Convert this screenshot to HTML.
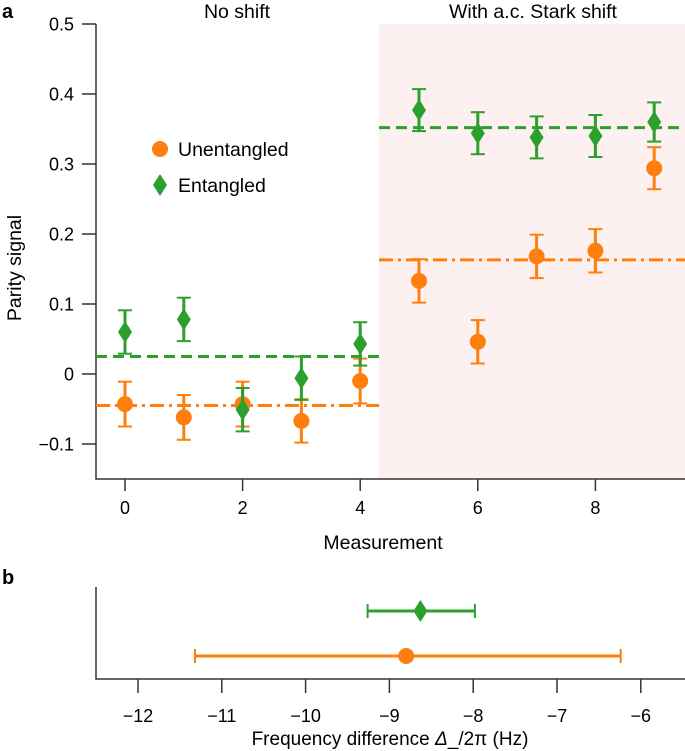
<!DOCTYPE html>
<html><head><meta charset="utf-8"><style>
html,body{margin:0;padding:0;background:#fff}
svg{display:block;font-family:"Liberation Sans",Arial,sans-serif}
</style></head><body>
<svg id="chart" width="685" height="751" viewBox="0 0 685 751" xmlns="http://www.w3.org/2000/svg">
<g id="a"></g><g id="b"></g>
</svg>
<script>
const measurements=[0,1,2,3,4,5,6,7,8,9];
const unentangled=[-0.043,-0.062,-0.043,-0.067,-0.010,0.133,0.046,0.168,0.176,0.294];
const entangled=[0.060,0.078,-0.051,-0.006,0.043,0.377,0.344,0.338,0.340,0.360];
const errU=[0.032,0.032,0.032,0.031,0.032,0.031,0.031,0.031,0.031,0.030];
const errE=[0.031,0.031,0.031,0.031,0.031,0.030,0.030,0.030,0.030,0.028];
const fitNoShift=[-0.045,0.025];
const fitShift=[0.163,0.352];
const yTicks=[-0.1,0,0.1,0.2,0.3,0.4,0.5];
const yTickLabels=["\u22120.1","0","0.1","0.2","0.3","0.4","0.5"];
const xTicks=[0,2,4,6,8];
const bTicks=[-12,-11,-10,-9,-8,-7,-6];
const bCenters=[-8.80,-8.63];
const bLow=[-11.32,-9.26];
const bHigh=[-6.24,-7.98];

const NS="http://www.w3.org/2000/svg";
function mk(parent,tag,attrs,txt){const e=document.createElementNS(NS,tag);for(const k in attrs)e.setAttribute(k,attrs[k]);if(txt!==undefined)e.textContent=txt;parent.appendChild(e);return e;}
const OR="#ff7f0e",GR="#2ca02c";
const xA=v=>125+v*58.8;
const yA=v=>374-v*700;
const gA=document.getElementById('a');
let r=mk(gA,'rect',{x:379,y:24,width:306,height:455,fill:'#fdf0f0'});

let t;
t=mk(gA,'text',{x:2,y:18,'font-size':20,'font-weight':'bold'},'a');
t=mk(gA,'text',{x:237,y:18,'font-size':19.5,'text-anchor':'middle'},'No shift');
t=mk(gA,'text',{x:533,y:18,'font-size':19.5,'text-anchor':'middle'},'With a.c. Stark shift');
let ax=mk(gA,'path',{d:'M96,24 V479 H685',fill:'none',stroke:'#333','stroke-width':1.5});

yTicks.forEach((v,i)=>{
 const l=mk(gA,'line',{x1:82,x2:96,y1:yA(v),y2:yA(v),stroke:'#333','stroke-width':1.5});
 
 const tt=mk(gA,'text',{x:74,y:yA(v)+6.5,'font-size':18,'text-anchor':'end'},yTickLabels[i]);
 
});
xTicks.forEach(v=>{
 const l=mk(gA,'line',{x1:xA(v),x2:xA(v),y1:479,y2:491,stroke:'#333','stroke-width':1.5});
 
 const tt=mk(gA,'text',{x:xA(v),y:514,'font-size':18,'text-anchor':'middle'},String(v));
 
});
t=mk(gA,'text',{x:383,y:549,'font-size':19.5,'text-anchor':'middle'},'Measurement');
t=mk(gA,'text',{x:0,y:0,'font-size':19.5,'text-anchor':'middle',transform:'translate(21,268) rotate(-90)'},'Parity signal');
const split=379;
[[fitNoShift[0],96,split,OR,'14 5 3 5','fit-unentangled-no-shift'],[fitNoShift[1],96,split,GR,'11 6','fit-entangled-no-shift'],
 [fitShift[0],split,685,OR,'14 5 3 5','fit-unentangled-shift'],[fitShift[1],split,685,GR,'11 6','fit-entangled-shift']].forEach(f=>{
 const l=mk(gA,'line',{x1:f[1],x2:f[2],y1:yA(f[0]),y2:yA(f[0]),stroke:f[3],'stroke-width':3,'stroke-dasharray':f[4]});
 
});
function errbar(g,x,y,lo,hi,c,cw,sw){
 mk(g,'line',{x1:x,x2:x,y1:lo,y2:hi,stroke:c,'stroke-width':sw});
 mk(g,'line',{x1:x-cw,x2:x+cw,y1:lo,y2:lo,stroke:c,'stroke-width':2});
 mk(g,'line',{x1:x-cw,x2:x+cw,y1:hi,y2:hi,stroke:c,'stroke-width':2});
}
measurements.forEach((m,i)=>{
 const x=xA(m);
 const g=mk(gA,'g',{});
 
 errbar(g,x,yA(unentangled[i]),yA(unentangled[i]-errU[i]),yA(unentangled[i]+errU[i]),OR,7,3);
 mk(g,'circle',{cx:x,cy:yA(unentangled[i]),r:8,fill:OR});
});
measurements.forEach((m,i)=>{
 const x=xA(m),y=yA(entangled[i]);
 const g=mk(gA,'g',{});
 
 errbar(g,x,y,yA(entangled[i]-errE[i]),yA(entangled[i]+errE[i]),GR,7,3);
 mk(g,'path',{d:`M${x},${y-11} L${x+7},${y} L${x},${y+11} L${x-7},${y} Z`,fill:GR});
});
let lg=mk(gA,'g',{});
let le=mk(lg,'g',{});
mk(le,'circle',{cx:160,cy:149,r:8,fill:OR});mk(le,'text',{x:178,y:156,'font-size':19.5},'Unentangled');
le=mk(lg,'g',{});
mk(le,'path',{d:'M160,174 L167,185 L160,196 L153,185 Z',fill:GR});mk(le,'text',{x:178,y:192,'font-size':19.5},'Entangled');

const gB=document.getElementById('b');
const xB=v=>138+(v+12)*83.8;
const rowsY=[656,611];
t=mk(gB,'text',{x:2,y:584,'font-size':20,'font-weight':'bold'},'b');
ax=mk(gB,'path',{d:'M96,587 V679 H685',fill:'none',stroke:'#333','stroke-width':1.5});

bTicks.forEach(v=>{
 const l=mk(gB,'line',{x1:xB(v),x2:xB(v),y1:679,y2:693,stroke:'#333','stroke-width':1.5});
 
 const tt=mk(gB,'text',{x:xB(v),y:722,'font-size':18,'text-anchor':'middle'},'\u2212'+Math.abs(v));
 
});
t=mk(gB,'text',{x:390,y:745,'font-size':19,'text-anchor':'middle'});

t.innerHTML='Frequency difference <tspan font-style="italic">\u0394</tspan>_/2\u03c0 (Hz)';
[0,1].forEach(i=>{
 const g=mk(gB,'g',{});
 
 const c=i?GR:OR,y=rowsY[i],x=xB(bCenters[i]);
 mk(g,'line',{x1:xB(bLow[i]),x2:xB(bHigh[i]),y1:y,y2:y,stroke:c,'stroke-width':3});
 mk(g,'line',{x1:xB(bLow[i]),x2:xB(bLow[i]),y1:y-7,y2:y+7,stroke:c,'stroke-width':2});
 mk(g,'line',{x1:xB(bHigh[i]),x2:xB(bHigh[i]),y1:y-7,y2:y+7,stroke:c,'stroke-width':2});
 if(i) mk(g,'path',{d:`M${x},${y-11} L${x+7},${y} L${x},${y+11} L${x-7},${y} Z`,fill:c});
 else mk(g,'circle',{cx:x,cy:y,r:8,fill:c});
});
</script>
</body></html>
